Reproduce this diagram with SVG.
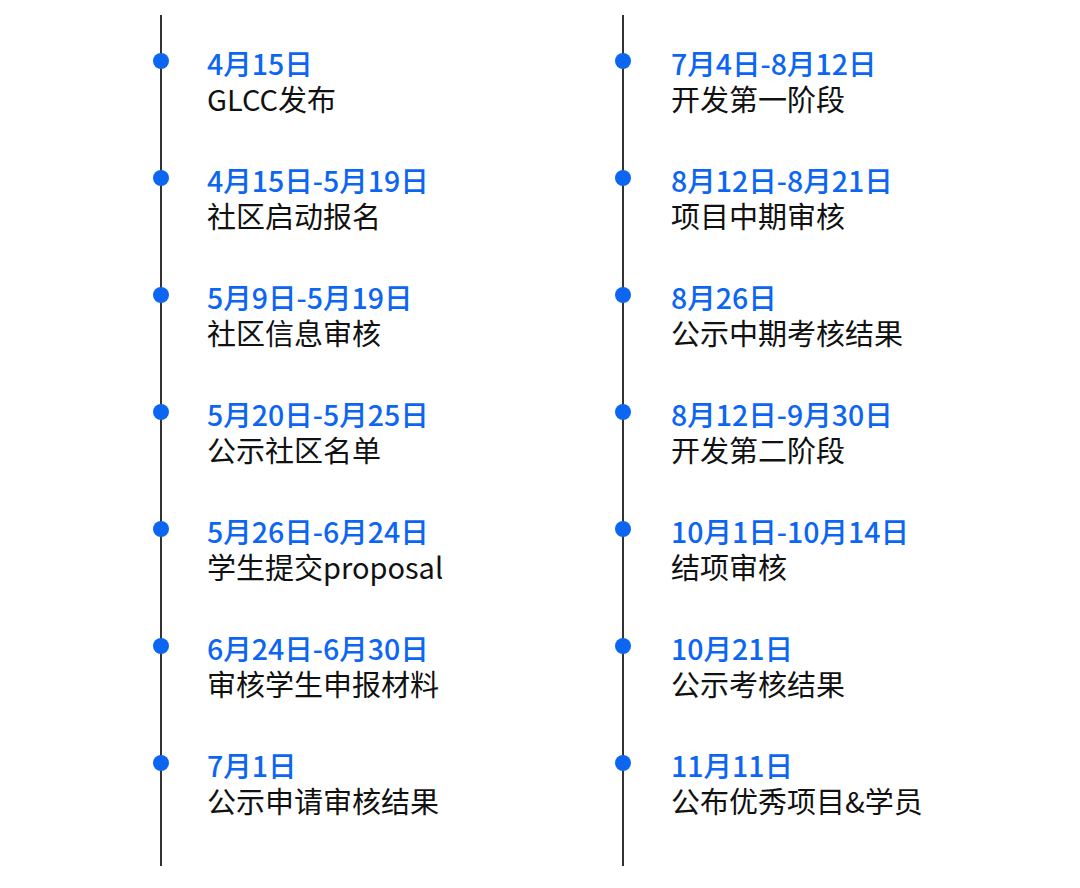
<svg xmlns="http://www.w3.org/2000/svg" width="1080" height="888" viewBox="0 0 1080 888">
<style>
.ln{stroke:#333;stroke-width:2}
.dot{fill:#0d66f2}
.d{font-family:"Noto Sans CJK SC","Noto Sans",sans-serif;font-size:28.5px;font-weight:500;fill:#0d66f2}
.t{font-family:"Noto Sans CJK SC","Noto Sans",sans-serif;font-size:29px;fill:#111}
</style>
<rect width="1080" height="888" fill="#fff"/>
<g id="connectors">
<line class="ln" x1="161" y1="15" x2="161" y2="866"/>
<line class="ln" x1="623" y1="15" x2="623" y2="866"/>
</g>
<g id="L1"><circle class="dot" cx="161" cy="61" r="8"/><text class="d" x="207" y="75">4月15日</text><text class="t" x="207" y="111">GLCC发布</text></g>
<g id="L2"><circle class="dot" cx="161" cy="178" r="8"/><text class="d" x="207" y="192">4月15日-5月19日</text><text class="t" x="207" y="228">社区启动报名</text></g>
<g id="L3"><circle class="dot" cx="161" cy="295" r="8"/><text class="d" x="207" y="309">5月9日-5月19日</text><text class="t" x="207" y="345">社区信息审核</text></g>
<g id="L4"><circle class="dot" cx="161" cy="412" r="8"/><text class="d" x="207" y="426">5月20日-5月25日</text><text class="t" x="207" y="462">公示社区名单</text></g>
<g id="L5"><circle class="dot" cx="161" cy="529" r="8"/><text class="d" x="207" y="543">5月26日-6月24日</text><text class="t" x="207" y="579">学生提交proposal</text></g>
<g id="L6"><circle class="dot" cx="161" cy="646" r="8"/><text class="d" x="207" y="660">6月24日-6月30日</text><text class="t" x="207" y="696">审核学生申报材料</text></g>
<g id="L7"><circle class="dot" cx="161" cy="763" r="8"/><text class="d" x="207" y="777">7月1日</text><text class="t" x="207" y="813">公示申请审核结果</text></g>
<g id="R1"><circle class="dot" cx="623" cy="61" r="8"/><text class="d" x="671" y="75">7月4日-8月12日</text><text class="t" x="671" y="111">开发第一阶段</text></g>
<g id="R2"><circle class="dot" cx="623" cy="178" r="8"/><text class="d" x="671" y="192">8月12日-8月21日</text><text class="t" x="671" y="228">项目中期审核</text></g>
<g id="R3"><circle class="dot" cx="623" cy="295" r="8"/><text class="d" x="671" y="309">8月26日</text><text class="t" x="671" y="345">公示中期考核结果</text></g>
<g id="R4"><circle class="dot" cx="623" cy="412" r="8"/><text class="d" x="671" y="426">8月12日-9月30日</text><text class="t" x="671" y="462">开发第二阶段</text></g>
<g id="R5"><circle class="dot" cx="623" cy="529" r="8"/><text class="d" x="671" y="543">10月1日-10月14日</text><text class="t" x="671" y="579">结项审核</text></g>
<g id="R6"><circle class="dot" cx="623" cy="646" r="8"/><text class="d" x="671" y="660">10月21日</text><text class="t" x="671" y="696">公示考核结果</text></g>
<g id="R7"><circle class="dot" cx="623" cy="763" r="8"/><text class="d" x="671" y="777">11月11日</text><text class="t" x="671" y="813">公布优秀项目&amp;学员</text></g>
</svg>
